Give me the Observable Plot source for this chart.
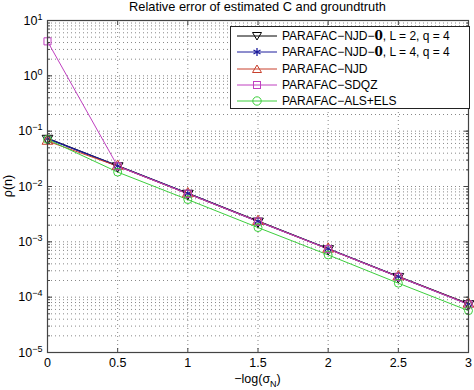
<!DOCTYPE html>
<html>
<head>
<meta charset="utf-8">
<script src="https://cdn.jsdelivr.net/npm/d3@7"></script>
<script src="https://cdn.jsdelivr.net/npm/@observablehq/plot@0.6"></script>
<style>
  body { margin: 0; background: #fff; }
  #wrap { position: relative; width: 474px; height: 390px; overflow: hidden; font-family: "Liberation Sans", Arial, sans-serif; color: #000; }
  #title { position: absolute; top: 0px; left: 47px; width: 421px; text-align: center; font-size: 12.8px; line-height: 13px; }
  #xlabel { position: absolute; top: 372px; left: 47px; width: 421px; text-align: center; font-size: 12.5px; line-height: 14px; }
  #ylabel { position: absolute; left: 8px; top: 186px; font-size: 12.5px; line-height: 14px; transform: translate(-50%, -50%) rotate(-90deg); white-space: nowrap; }
  #legend { position: absolute; left: 230px; top: 26px; width: 240px; height: 83px; border: 1px solid #222; background: #fff; box-sizing: border-box; }
  .row { position: absolute; left: 0; height: 16px; display: flex; align-items: center; font-size: 12px; white-space: nowrap; }
  .row svg { margin-left: 6px; margin-right: 5px; }
  .bz { font-family: "DejaVu Serif", serif; font-weight: bold; }
</style>
</head>
<body>
<div id="wrap">
  <div id="chart"></div>
  <div id="title">Relative error of estimated C and groundtruth</div>
  <div id="xlabel">−log(σ<sub style="font-size:9px">N</sub>)</div>
  <div id="ylabel">ρ(n)</div>
  <div id="legend"></div>
</div>
<script>
// ---- data ----
const xValues = [0, 0.5, 1, 1.5, 2, 2.5, 3];
const njd0L2 = [0.074, 0.0236, 0.0075, 0.00236, 0.00075, 0.000236, 0.000076];
const njd0L4 = [0.073, 0.0235, 0.0075, 0.00235, 0.00075, 0.000235, 0.000075];
const njd    = [0.066, 0.0233, 0.0074, 0.00234, 0.00074, 0.000234, 0.000075];
const sdqz   = [4.2, 0.0232, 0.0074, 0.00233, 0.00074, 0.000233, 0.000074];
const alsEls = [0.071, 0.0182, 0.0058, 0.00181, 0.00058, 0.000179, 0.000057];
const seriesNames = ["PARAFAC−NJD−0, L = 2, q = 4", "PARAFAC−NJD−0, L = 4, q = 4", "PARAFAC−NJD", "PARAFAC−SDQZ", "PARAFAC−ALS+ELS"];
const seriesValues = [njd0L2, njd0L4, njd, sdqz, alsEls];
const seriesColors = ["#000000", "#1c1c9c", "#c8402c", "#c040c0", "#3ccf3c"];
const seriesSymbols = ["triangle", "asterisk", "triangle", "square", "circle"];
const seriesRotate = [180, 0, 0, 0, 0];
const seriesWidth = [1.3, 1.3, 1, 1, 1];
const xTicks = [0, 0.5, 1, 1.5, 2, 2.5, 3];
const yTicks = [1e-5, 1e-4, 1e-3, 1e-2, 1e-1, 1, 10];
const yDomain = [1e-5, 10];

const rows = [];
seriesValues.forEach((vals, i) => vals.forEach((v, j) => rows.push({series: i, x: xValues[j], y: v})));
const minorY = d3.scaleLog().domain(yDomain).ticks();
const blank = () => "";

const marks = [
  Plot.ruleY(minorY, {stroke: "#888", strokeDasharray: "1,3", strokeWidth: 1}),
  Plot.ruleX(xTicks.slice(1, -1), {stroke: "#888", strokeDasharray: "1,3", strokeWidth: 1})
];
seriesValues.forEach((vals, i) => {
  const d = rows.filter(r => r.series === i);
  marks.push(Plot.line(d, {x: "x", y: "y", stroke: seriesColors[i], strokeWidth: seriesWidth[i]}));
});
seriesValues.forEach((vals, i) => {
  const d = rows.filter(r => r.series === i);
  marks.push(Plot.dot(d, {x: "x", y: "y", stroke: seriesColors[i], fill: "none", symbol: seriesSymbols[i], rotate: seriesRotate[i], r: 4, strokeWidth: 1}));
});
marks.push(
  Plot.frame({stroke: "#444", strokeWidth: 1.2}),
  Plot.axisX({ticks: xTicks, tickFormat: d => String(d), tickSize: -4, tickPadding: 10, fontSize: 12.5, label: null, stroke: "#444"}),
  Plot.axisX({anchor: "top", ticks: xTicks, tickFormat: blank, tickSize: -4, label: null, stroke: "#444"}),
  Plot.axisY({ticks: yTicks, tickFormat: d => String(Math.round(Math.log10(d))), tickSize: -5, tickPadding: 10, fontSize: 12.5, label: null, stroke: "#444"}),
  Plot.axisY({ticks: minorY, tickFormat: blank, tickSize: -3, label: null, stroke: "#444"}),
  Plot.axisY({anchor: "right", ticks: yTicks, tickFormat: blank, tickSize: -5, label: null, stroke: "#444"}),
  Plot.axisY({anchor: "right", ticks: minorY, tickFormat: blank, tickSize: -3, label: null, stroke: "#444"})
);

const chart = Plot.plot({
  width: 474, height: 390,
  marginLeft: 47, marginRight: 6, marginTop: 20, marginBottom: 38,
  style: {fontFamily: "Liberation Sans, Arial, sans-serif", color: "#000", background: "#fff"},
  x: {domain: [0, 3]},
  y: {type: "log", domain: yDomain},
  marks
});
document.getElementById("chart").appendChild(chart);

// remove blank tick labels, then superscript exponents for y tick labels
chart.querySelectorAll('[aria-label$="tick label"] text').forEach(t => { if (t.textContent === "") t.remove(); });
chart.querySelectorAll('[aria-label="y-axis tick label"] text').forEach(t => {
  const e = t.textContent;
  if (!e) return;
  const exp = e.replace("-", "−");
  t.textContent = "";
  const sel = d3.select(t);
  sel.append("tspan").text("10");
  sel.append("tspan").attr("dy", "-0.55em").attr("font-size", "9px").text(exp);
});

// legend
const leg = document.getElementById("legend");
seriesNames.forEach((name, i) => {
  const row = document.createElement("div");
  row.className = "row";
  row.style.top = (1 + i * 16.3) + "px";
  const c = seriesColors[i];
  let m = "";
  if (seriesSymbols[i] === "triangle") {
    m = seriesRotate[i] ? `<path d="M15.5,4.5 L24.5,4.5 L20,12 Z" fill="none" stroke="${c}"/>` : `<path d="M15.5,11.5 L24.5,11.5 L20,4 Z" fill="none" stroke="${c}"/>`;
  } else if (seriesSymbols[i] === "asterisk") {
    m = `<path d="M20,4 V12 M16.5,6 L23.5,10 M16.5,10 L23.5,6" stroke="${c}" stroke-width="1.3"/>`;
  } else if (seriesSymbols[i] === "square") {
    m = `<rect x="16.5" y="4.5" width="7" height="7" fill="none" stroke="${c}"/>`;
  } else {
    m = `<circle cx="20" cy="8" r="4.2" fill="none" stroke="${c}"/>`;
  }
  const svg = `<svg width="40" height="16"><line x1="0" x2="40" y1="8" y2="8" stroke="${c}" stroke-width="1"/>${m}</svg>`;
  const label = name.replace(/NJD−0/, 'NJD−<span class="bz">0</span>');
  row.innerHTML = svg + `<span>${label}</span>`;
  leg.appendChild(row);
});
</script>
</body>
</html>
